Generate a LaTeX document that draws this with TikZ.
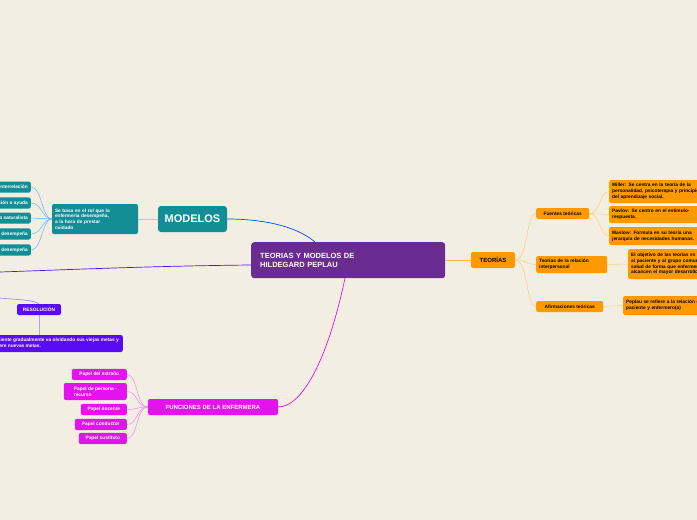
\documentclass[tikz,border=0pt]{standalone}
\usepackage{fontspec}
\setmainfont{Liberation Sans}
\begin{document}
\begin{tikzpicture}[x=1pt,y=-1pt,
 teal/.style={fill=tealc,text=white},
 org/.style={fill=orgc,text=black,font=\bfseries\fontsize{4.8}{5.8}\selectfont},
 mag/.style={fill=magc,text=white,font=\bfseries\fontsize{4.8}{5.8}\selectfont},
 vio/.style={fill=vioc,text=white,font=\bfseries\fontsize{4.8}{5.8}\selectfont},
 lk/.style={line width=0.7pt}]
\definecolor{bgc}{HTML}{F2EFE2}
\definecolor{tealc}{HTML}{138E96}
\definecolor{orgc}{HTML}{FF9900}
\definecolor{magc}{HTML}{E412EE}
\definecolor{vioc}{HTML}{5A0BF5}
\definecolor{purc}{HTML}{6A2C91}
\clip (0,0) rectangle (697,520);
\fill[bgc] (0,0) rectangle (697,520);
% connectors
\coordinate (cl) at (251,265);
\coordinate (lend) at (0,272);
\draw[lk,vioc] (cl) .. controls (150,266) and (60,270) .. (lend);
\coordinate (rtop) at (0,298);
\draw[lk,vioc!50] (rtop) .. controls (20,300) and (35,300) .. (39,304);
\draw[lk,vioc!40] (39,315) -- (39,335);
\draw[lk,blue!70!cyan] (315,242) .. controls (295,225) and (260,219) .. (227,219);
\draw[lk,tealc!40] (138,219) -- (158,219);
\draw[lk,orgc!70] (445,260) -- (471,260);
\draw[lk,magc] (345,278) .. controls (330,350) and (305,407) .. (278,407);
% center
\node[fill=purc,text=white,rounded corners=3pt,minimum height=36pt,font=\bfseries\fontsize{7.5}{9}\selectfont,inner xsep=9pt,text width=176pt,align=left,anchor=north west] (c) at (251,242) {TEORIAS Y MODELOS DE\\HILDEGARD PEPLAU};
% MODELOS
\node[teal,rounded corners=3pt,minimum width=69pt,minimum height=26pt,font=\bfseries\fontsize{11}{12}\selectfont] (m) at (192.5,219) {MODELOS};
\node[teal,rounded corners=2pt,minimum height=30pt,text width=80pt,inner xsep=3pt,align=left,font=\bfseries\fontsize{4.8}{5.8}\selectfont] (sb) at (95,219) {Se basa en el rol que la\\enfermería desempeña,\\a la hora de prestar\\cuidado};
\foreach \y/\t [count=\i] in {187/Modelo de interrelación,203/Modelo de relación o ayuda,218/Modelo naturalista,234/Rol que desempeña,250/Rol que desempeña}{
 \node[teal,rounded corners=2pt,minimum height=11pt,inner xsep=3pt,font=\bfseries\fontsize{4.8}{5.8}\selectfont,anchor=east] (t\i) at (31,\y) {\t};
 \draw[lk,blue!50!cyan!60,line width=0.5pt] (t\i.east) .. controls (42,\y) and (42,219) .. (sb.west);
}
% violet
\node[vio,rounded corners=2pt,minimum height=11pt,minimum width=44pt] (res) at (39,309.5) {RESOLUCIÓN};
\node[vio,rounded corners=2pt,minimum height=17pt,anchor=east,align=left,inner xsep=4pt] (ind) at (123,343.5) {El paciente gradualmente va olvidando sus viejas metas y\\adquiere nuevas metas.};
% funciones
\node[mag,rounded corners=2pt,minimum width=130pt,minimum height=16pt,font=\bfseries\fontsize{6}{7}\selectfont] (f) at (213,407) {FUNCIONES DE LA ENFERMERA};
\foreach \y/\t/\h/\w [count=\i] in {374.5/Papel del extraño/11pt/55pt,391.5/{Papel de persona -\\recurso}/17pt/63pt,409.5/Papel docente/11pt/46pt,424.5/Papel conductor/11pt/52pt,438.5/Papel sustituto/11pt/48pt}{
 \node[mag,rounded corners=2pt,minimum height=\h,minimum width=\w,inner xsep=3pt,align=left,anchor=east] (p\i) at (127,\y) {\t};
 \draw[magc!50,line width=0.5pt] (p\i.east) .. controls (138,\y) and (136,407) .. (f.west);
}
% teorias
\node[fill=orgc,rounded corners=2pt,minimum width=44pt,minimum height=16pt,font=\bfseries\fontsize{6}{7}\selectfont] (te) at (493,260) {TEORÍAS};
\node[org,rounded corners=2pt,minimum width=53pt,minimum height=11pt,anchor=west] (ft) at (536,213.5) {Fuentes teóricas};
\node[org,rounded corners=2pt,minimum height=17pt,text width=65pt,inner xsep=3pt,align=left,anchor=west] (tr) at (536,264.5) {Teorías de la relación\\interpersonal};
\node[org,rounded corners=2pt,minimum width=67pt,minimum height=11pt,anchor=west] (at) at (536,306.5) {Afirmaciones teóricas};
\foreach \n/\y in {ft/213.5,tr/264.5,at/306.5}{\draw[orgc!50,line width=0.5pt] (te.east) .. controls (528,260) and (526,\y) .. (\n.west);}
% leaves
\node[org,rounded corners=2pt,minimum height=23pt,text width=110pt,inner xsep=3pt,align=left,anchor=west] (mi) at (609,191.5) {Miller: Se centra en la teoría de la\\personalidad, psicoterapia y principios\\del aprendizaje social.};
\node[org,rounded corners=2pt,minimum height=17pt,text width=110pt,inner xsep=3pt,align=left,anchor=west] (pa) at (609,214.5) {Pavlov: Se centro en el estimulo-\\respuesta.};
\node[org,rounded corners=2pt,minimum height=18pt,text width=110pt,inner xsep=3pt,align=left,anchor=west] (ma) at (609,236) {Maslow: Formula en su teoría una\\jerarquía de necesidades humanas.};
\foreach \n/\y in {mi/191.5,pa/214.5,ma/236}{\draw[orgc!50,line width=0.5pt] (ft.east) .. controls (600,213.5) and (600,\y) .. (\n.west);}
\node[org,rounded corners=2pt,minimum height=30pt,text width=110pt,inner xsep=3pt,align=left,anchor=west] (ob) at (628,264) {El objetivo de las teorías es ayudar\\al paciente y al grupo comunitario en\\salud de forma que enfermería\\alcancen el mayor desarrollo.};
\draw[orgc!50,line width=0.5pt] (tr.east) -- (ob.west);
\node[org,rounded corners=2pt,minimum height=19pt,text width=110pt,inner xsep=3pt,align=left,anchor=west] (pe) at (623,305.5) {Peplau se refiere a la relación entre\\paciente y enfermero(a)};
\draw[orgc!50,line width=0.5pt] (at.east) -- (pe.west);
\end{tikzpicture}
\end{document}
